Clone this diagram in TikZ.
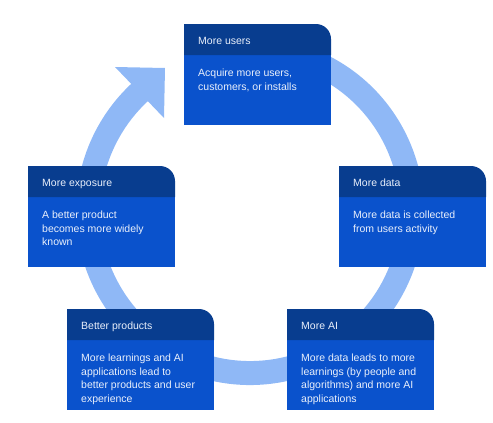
\documentclass[tikz,border=0pt]{standalone}
\usepackage{fontspec}
\setmainfont{Liberation Sans}
\definecolor{ringblue}{HTML}{8FB8F6}
\definecolor{headblue}{HTML}{083D8F}
\definecolor{bodyblue}{HTML}{0A52CC}
\definecolor{txt}{HTML}{EAF0FB}
\newcommand\mkcard[5]{%
  \fill[bodyblue] (#2,#3+30.5) rectangle (#2+147,#3+101);
  \fill[headblue] (#2,#3+31) -- (#2,#3) -- (#2+132,#3)
     arc[start angle=-90, end angle=0, radius=15] -- (#2+147,#3+31) -- cycle;
  \node[ttl] (#1-t) at (#2+14,#3+20.5) {#4};
  \node[bodytxt] (#1-b) at (#2+14,#3+52.5) {\begin{tabular}[t]{@{}l@{}}#5\end{tabular}};
}
\begin{document}
\begin{tikzpicture}[x=1pt,y=-1pt,
  ttl/.style={anchor=base west, inner sep=0pt, text=txt, font=\fontsize{10.5}{13.5}\selectfont},
  bodytxt/.style={anchor=base west, inner sep=0pt, text=txt, font=\fontsize{10.5}{13.5}\selectfont},
  ringline/.style={draw=ringblue, line width=24pt},
  ringhead/.style={fill=ringblue}]
\useasboundingbox (0,0) rectangle (493,423);
% cycle ring
\draw[ringline] (250,211) ++(-70:162) arc[start angle=-70, end angle=228, radius=162];
\fill[ringhead] (165,68) -- (115,67) -- (164,118) -- cycle;
% cards
\mkcard{users}{184}{24}{More users}{Acquire more users,\\customers, or installs}
\mkcard{exposure}{28}{166}{More exposure}{A better product\\becomes more widely\\known}
\mkcard{data}{339}{166}{More data}{More data is collected\\from users activity}
\mkcard{better}{67}{309}{Better products}{More learnings and AI\\applications lead to\\better products and user\\experience}
\mkcard{ai}{287}{309}{More AI}{More data leads to more\\learnings (by people and\\algorithms) and more AI\\applications}
\end{tikzpicture}
\end{document}
